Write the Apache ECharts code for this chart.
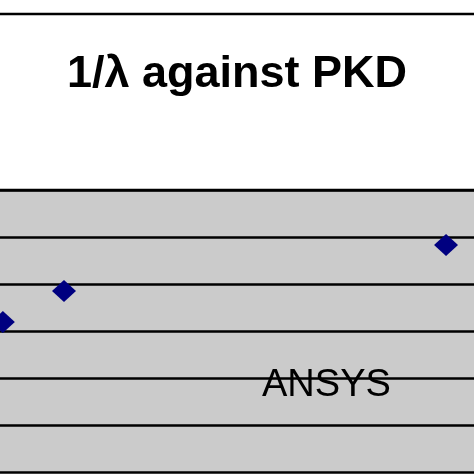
<!DOCTYPE html><html><head><meta charset="utf-8"><script src="https://cdn.jsdelivr.net/npm/echarts@6/dist/echarts.min.js"></script><style>body{margin:0}#c{width:474px;height:474px}</style></head><body><div id="c"></div><script>
const xVals=[0.06,1.35,9.41];
const yVals=[3.19,3.85,4.83];
const ch=echarts.init(document.getElementById('c'));
ch.setOption({backgroundColor:'#fff',animation:false,
title:{text:'1/λ against PKD',left:'center',top:47,textStyle:{fontFamily:'Liberation Sans',fontWeight:'bold',fontSize:45,color:'#000'}},
grid:{left:0,right:0,top:190,height:282,show:true,backgroundColor:'#cbcbcb',borderWidth:0},
xAxis:{type:'value',min:0,max:10,show:false,splitLine:{show:false}},
yAxis:{type:'value',min:0,max:6,interval:1,axisLine:{show:false},axisTick:{show:false},axisLabel:{show:false},splitLine:{lineStyle:{color:'#000',width:2.5}}},
graphic:[{type:'line',shape:{x1:0,y1:14,x2:474,y2:14},style:{stroke:'#000',lineWidth:2.5}},
{type:'line',shape:{x1:0,y1:190,x2:474,y2:190},style:{stroke:'#000',lineWidth:2.5},z:100},
{type:'text',left:262,top:367,style:{text:'ANSYS',font:'38px Liberation Sans',fill:'#000'},z:100}],
series:[{type:'scatter',data:xVals.map((x,i)=>[x,yVals[i]]),symbol:'diamond',symbolSize:[24,22],itemStyle:{color:'#000080',opacity:1}}]});
</script></body></html>
